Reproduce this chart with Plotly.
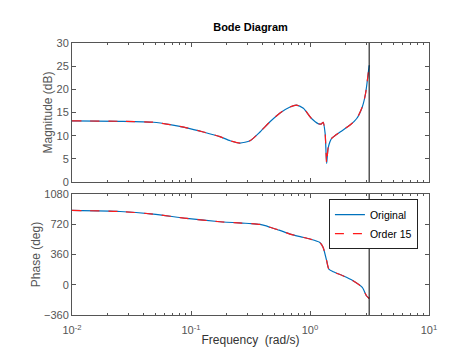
import numpy as np
import plotly.graph_objects as go

# ---- data ----
mag_freq = [0.01, 0.0253, 0.0482, 0.0667, 0.092, 0.127, 0.175, 0.213, 0.258, 0.313, 0.38,
            0.461, 0.56, 0.68, 0.77, 0.88, 1.03, 1.17, 1.24, 1.29, 1.34, 1.38, 1.42, 1.52,
            1.79, 2.17, 2.47, 2.75, 2.93, 3.1416]
mag_db = [13.2, 13.1, 12.9, 12.4, 11.7, 10.8, 9.8, 8.9, 8.4, 8.9, 10.8,
          13.0, 14.9, 16.2, 16.6, 15.9, 13.7, 12.6, 12.5, 12.9, 10.5, 4.0, 7.3, 9.4,
          10.8, 12.3, 13.7, 16.2, 19.1, 25.2]

ph_freq = [0.01, 0.0253, 0.0482, 0.092, 0.175, 0.267, 0.32, 0.38, 0.42, 0.461, 0.55, 0.68,
           0.84, 1.0, 1.21, 1.29, 1.38, 1.44, 1.57, 1.89, 2.30, 2.75, 2.98, 3.1416]
ph_deg = [884, 872, 841, 789, 750, 734, 728, 718, 703, 684, 650, 603,
          570, 544, 503, 444, 286, 187, 155, 107, 48, -32, -131, -163]

nyquist = np.pi
series_names = ["Original", "Order 15"]
x_tickvals = [0.01, 0.1, 1, 10]
x_ticktext = ["10<sup>-2</sup>", "10<sup>-1</sup>", "10<sup>0</sup>", "10<sup>1</sup>"]
mag_ticks = [0, 5, 10, 15, 20, 25, 30]
ph_ticks = [-360, 0, 360, 720, 1080]

BLUE = "#0072BD"
RED = "#FF1A1A"
AX = "#555555"
TXT = "#555555"
FONT = "Liberation Sans, Arial, sans-serif"

blue_line = dict(color=BLUE, width=1.2, shape="spline", smoothing=0.6)
red_line = dict(color=RED, width=1.2, dash="dash", shape="spline", smoothing=0.6)

fig = go.Figure()
# Magnitude
fig.add_trace(go.Scatter(x=mag_freq, y=mag_db, mode="lines", line=blue_line,
                         name=series_names[0], xaxis="x", yaxis="y", showlegend=False))
fig.add_trace(go.Scatter(x=mag_freq, y=mag_db, mode="lines", line=red_line,
                         name=series_names[1], xaxis="x", yaxis="y", showlegend=False))
fig.add_trace(go.Scatter(x=[nyquist, nyquist], y=[0, 30], mode="lines", line=dict(color="black", width=1),
                         xaxis="x", yaxis="y", showlegend=False, hoverinfo="skip"))
# Phase
fig.add_trace(go.Scatter(x=ph_freq, y=ph_deg, mode="lines", line=blue_line,
                         name=series_names[0], xaxis="x2", yaxis="y2"))
fig.add_trace(go.Scatter(x=ph_freq, y=ph_deg, mode="lines", line=red_line,
                         name=series_names[1], xaxis="x2", yaxis="y2"))
fig.add_trace(go.Scatter(x=[nyquist, nyquist], y=[-360, 1080], mode="lines", line=dict(color="black", width=1),
                         xaxis="x2", yaxis="y2", showlegend=False, hoverinfo="skip"))

xcommon = dict(type="log", range=[-2, 1], showline=True, linecolor=AX, linewidth=1, mirror="allticks",
               ticks="inside", ticklen=4, tickcolor=AX, showgrid=False, zeroline=False,
               tickvals=x_tickvals, ticktext=x_ticktext, automargin=False,
               minor=dict(ticks="inside", ticklen=2, tickcolor=AX, dtick="D1", showgrid=False),
               tickfont=dict(size=11, color=TXT, family=FONT))
ycommon = dict(showline=True, linecolor=AX, linewidth=1, mirror="allticks", ticks="inside", ticklen=4,
               tickcolor=AX, showgrid=False, zeroline=False, automargin=False,
               tickfont=dict(size=11, color=TXT, family=FONT))

# page is rendered with an 8px body margin, so the figure is 8px smaller
W, H = 466, 347
top_dom = [(307 - 174) / 272, 1.0]
bot_dom = [0.0, (307 - 186) / 272]

fig.update_layout(
    width=W, height=H,
    margin=dict(l=64, r=45, t=35, b=40),
    paper_bgcolor="white", plot_bgcolor="white",
    font=dict(family=FONT, size=11, color=TXT),
    title=dict(text="<b>Bode Diagram</b>", x=242.5 / W, xanchor="center", y=1 - 19 / H, yanchor="middle",
               font=dict(size=11, color="black", family=FONT)),
    xaxis=dict(xcommon, domain=[0, 1], anchor="y", showticklabels=False),
    yaxis=dict(ycommon, domain=top_dom, range=[0, 30], tickvals=mag_ticks, anchor="x",
               title=dict(text="Magnitude (dB)", standoff=1, font=dict(size=12, color=TXT))),
    xaxis2=dict(xcommon, domain=[0, 1], anchor="y2", ticklabelstandoff=5,
                title=dict(text="Frequency \u00a0(rad/s)", standoff=0, font=dict(size=12, color="#333333"))),
    yaxis2=dict(ycommon, domain=bot_dom, range=[-360, 1080], tickvals=ph_ticks, anchor="x2",
                title=dict(text="Phase (deg)", standoff=0, font=dict(size=12, color=TXT))),
    legend=dict(x=0.969, xanchor="right", y=0.426, yanchor="top", bgcolor="white",
                bordercolor="#222222", borderwidth=1, font=dict(size=10.5, color="black", family=FONT),
                tracegroupgap=0, itemwidth=30),
    showlegend=True,
)

fig.write_html("out.html")
